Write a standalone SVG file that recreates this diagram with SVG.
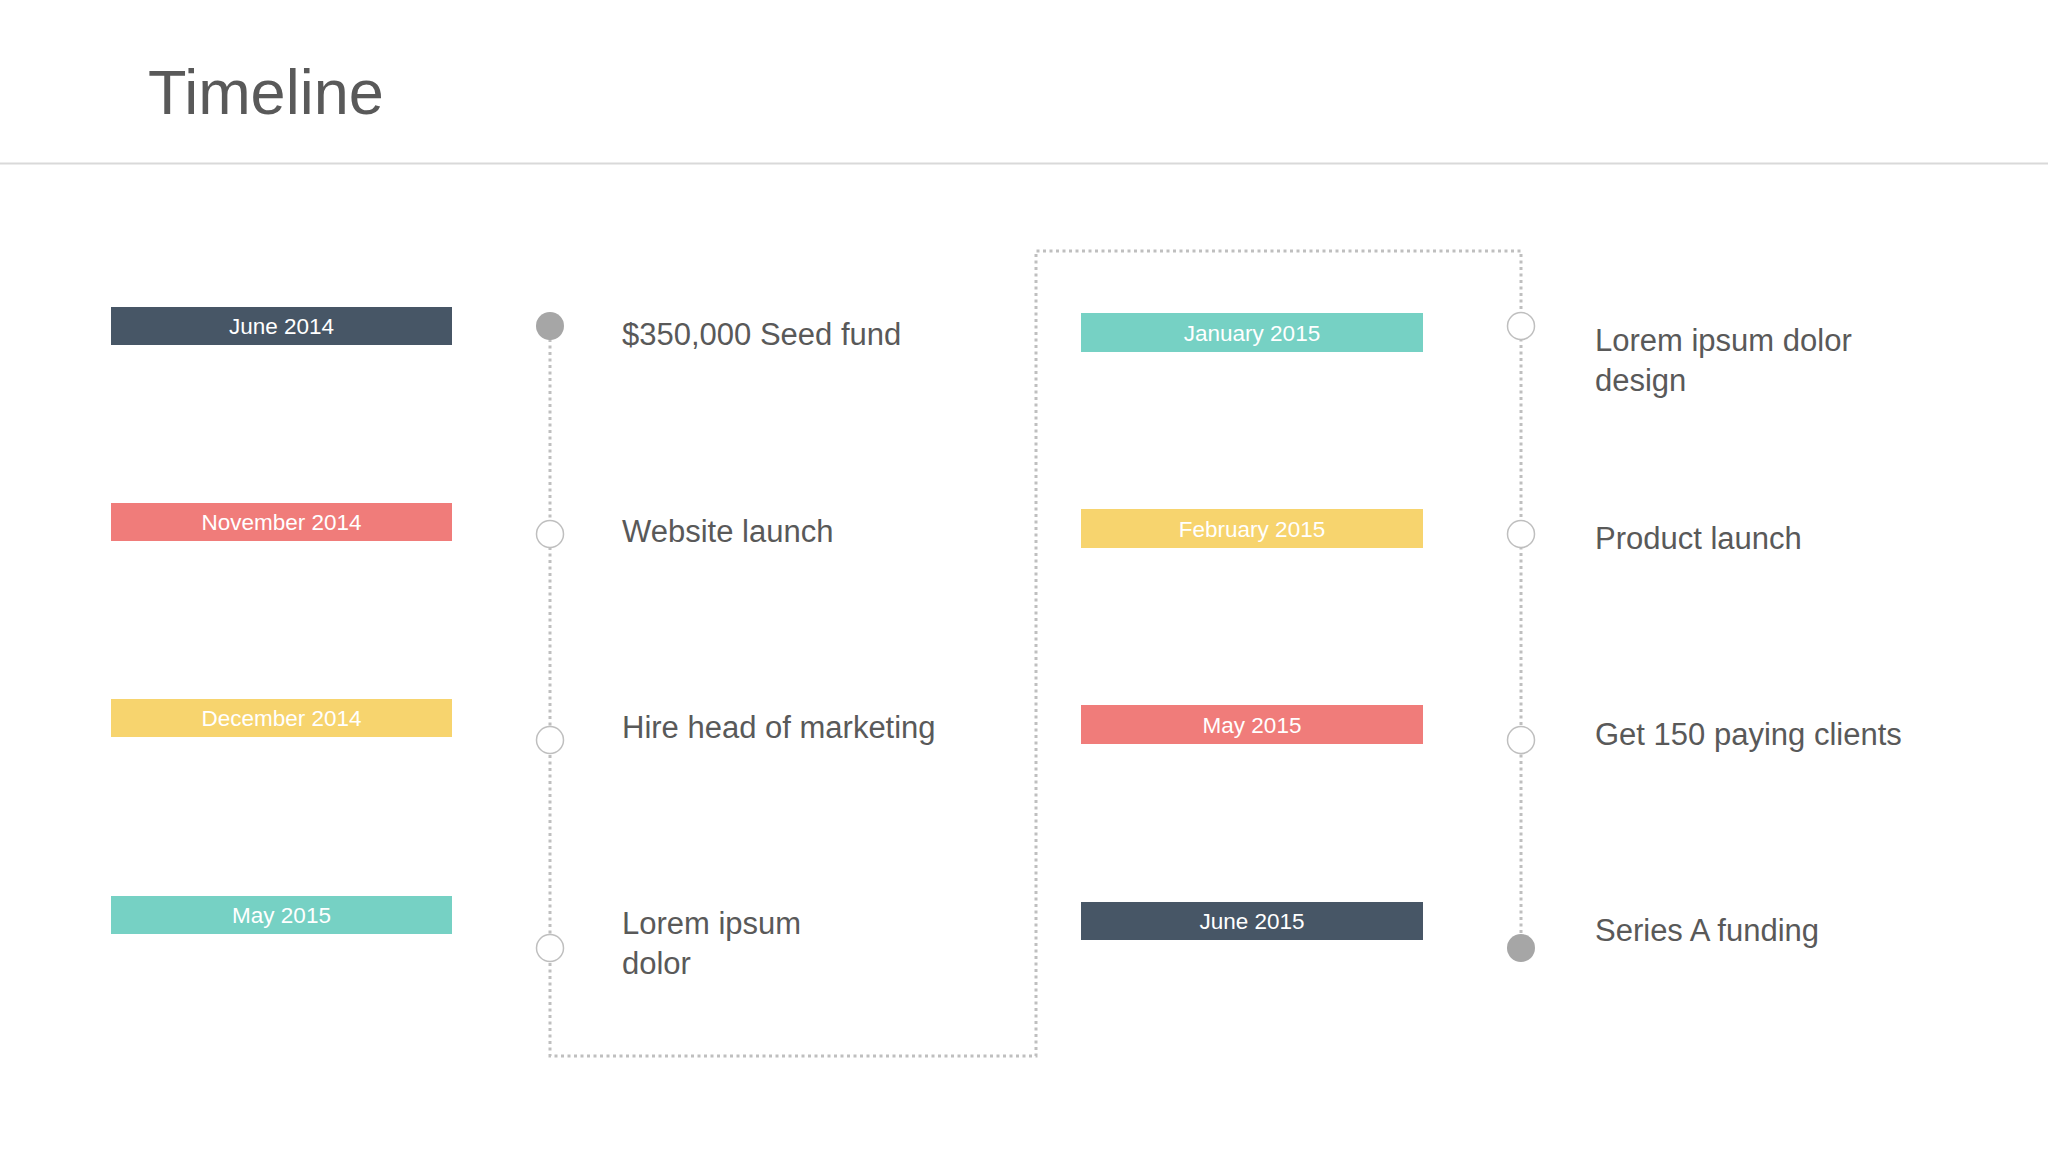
<svg xmlns="http://www.w3.org/2000/svg" width="2048" height="1152" viewBox="0 0 2048 1152">
  <style>
    .title { font-family: "Liberation Sans", Arial, sans-serif; font-size: 63px; fill: #595959; }
    .bar-label { font-family: "Liberation Sans", Arial, sans-serif; font-size: 22.5px; fill: #FFFFFF; text-anchor: middle; }
    .event { font-family: "Liberation Sans", Arial, sans-serif; font-size: 31px; fill: #595959; }
    .dotline { fill: none; stroke: #BFBFBF; stroke-width: 3; stroke-dasharray: 3 3.5; }
    .dot-open { fill: #FFFFFF; stroke: #BFBFBF; stroke-width: 1.5; }
    .dot-filled { fill: #A6A6A6; stroke: none; }
    .c-dark { fill: #475666; }
    .c-coral { fill: #F07C7A; }
    .c-yellow { fill: #F7D46E; }
    .c-teal { fill: #76D1C4; }
  </style>
  <rect x="0" y="0" width="2048" height="1152" fill="#FFFFFF"/>
  <text class="title" x="148" y="114">Timeline</text>
  <line x1="0" y1="163.5" x2="2048" y2="163.5" stroke="#D9D9D9" stroke-width="2"/>

  <g id="connectors">
    <path class="dotline" d="M550,326 V1056 H1036 V251 H1521 V948"/>
  </g>

  <g id="markers">
    <circle class="dot-filled" cx="550" cy="326" r="14"/>
    <circle class="dot-open" cx="550" cy="534" r="13.5"/>
    <circle class="dot-open" cx="550" cy="740" r="13.5"/>
    <circle class="dot-open" cx="550" cy="948" r="13.5"/>
    <circle class="dot-open" cx="1521" cy="326" r="13.5"/>
    <circle class="dot-open" cx="1521" cy="534" r="13.5"/>
    <circle class="dot-open" cx="1521" cy="740" r="13.5"/>
    <circle class="dot-filled" cx="1521" cy="948" r="14"/>
  </g>

  <g id="node-june-2014">
    <rect class="c-dark" x="111" y="307" width="341" height="38"/>
    <text class="bar-label" x="281.5" y="334">June 2014</text>
    <text class="event" x="622" y="345">$350,000 Seed fund</text>
  </g>
  <g id="node-november-2014">
    <rect class="c-coral" x="111" y="503" width="341" height="38"/>
    <text class="bar-label" x="281.5" y="530">November 2014</text>
    <text class="event" x="622" y="542">Website launch</text>
  </g>
  <g id="node-december-2014">
    <rect class="c-yellow" x="111" y="699" width="341" height="38"/>
    <text class="bar-label" x="281.5" y="726">December 2014</text>
    <text class="event" x="622" y="738">Hire head of marketing</text>
  </g>
  <g id="node-may-2015-left">
    <rect class="c-teal" x="111" y="896" width="341" height="38"/>
    <text class="bar-label" x="281.5" y="923">May 2015</text>
    <text class="event" x="622" y="934">Lorem ipsum</text>
    <text class="event" x="622" y="974">dolor</text>
  </g>

  <g id="node-january-2015">
    <rect class="c-teal" x="1081" y="313" width="342" height="39"/>
    <text class="bar-label" x="1252" y="341">January 2015</text>
    <text class="event" x="1595" y="351">Lorem ipsum dolor</text>
    <text class="event" x="1595" y="391">design</text>
  </g>
  <g id="node-february-2015">
    <rect class="c-yellow" x="1081" y="509" width="342" height="39"/>
    <text class="bar-label" x="1252" y="537">February 2015</text>
    <text class="event" x="1595" y="549">Product launch</text>
  </g>
  <g id="node-may-2015-right">
    <rect class="c-coral" x="1081" y="705" width="342" height="39"/>
    <text class="bar-label" x="1252" y="733">May 2015</text>
    <text class="event" x="1595" y="745">Get 150 paying clients</text>
  </g>
  <g id="node-june-2015">
    <rect class="c-dark" x="1081" y="902" width="342" height="38"/>
    <text class="bar-label" x="1252" y="929">June 2015</text>
    <text class="event" x="1595" y="941">Series A funding</text>
  </g>
</svg>
